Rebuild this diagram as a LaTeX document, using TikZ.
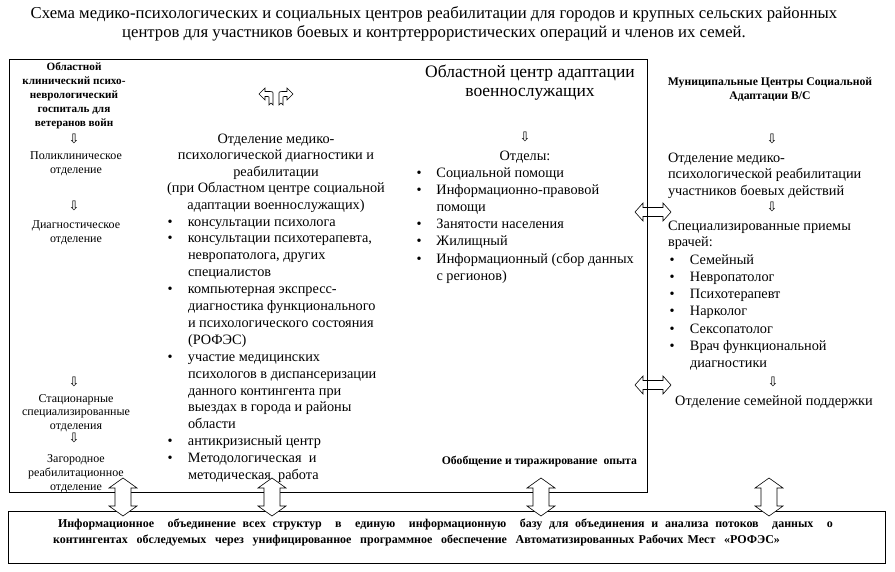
\documentclass[tikz,border=0pt]{standalone}
\usepackage{fontspec}
\setmainfont{Liberation Serif}
\newfontfamily\arrfont{DejaVu Sans}
\newcommand\ctab[1]{\begin{tabular}[t]{@{}c@{}}#1\end{tabular}}
\newcommand\ltab[1]{\begin{tabular}[t]{@{}l@{}}#1\end{tabular}}
\newcommand\btab[2]{\begin{tabular}[t]{@{}p{#1}@{}l@{}}#2\end{tabular}}
\begin{document}
\begin{tikzpicture}[x=1pt,y=-1pt,
  every node/.style={inner sep=0pt, outer sep=0pt},
  frame/.style={draw, line width=0.8pt},
  arrowline/.style={draw, line width=0.6pt},
  titletxt/.style={font=\fontsize{16.7}{19}\selectfont},
  bigtxt/.style={font=\fontsize{17.5}{19}\selectfont},
  bodytxt/.style={font=\fontsize{14.3}{#1}\selectfont},
  smalltxt/.style={font=\fontsize{12}{#1}\selectfont},
  smallbold/.style={font=\fontsize{11.7}{#1}\selectfont\bfseries},
  hospbold/.style={font=\fontsize{11.2}{#1}\selectfont\bfseries},
  infotxt/.style={font=\fontsize{12}{16}\selectfont\bfseries},
  downarr/.style={font=\arrfont\fontsize{13}{13}\selectfont},
  vdbl/.pic={\draw[arrowline, fill=white] (0,-19) -- (14,-9) -- (8,-9) -- (8,9) -- (14,9) -- (0,19) -- (-14,9) -- (-8,9) -- (-8,-9) -- (-14,-9) -- cycle;},
  hdbl/.pic={\draw[arrowline] (-18,0) -- (-10,-9) -- (-10,-4.5) -- (10,-4.5) -- (10,-9) -- (18,0) -- (10,9) -- (10,4.5) -- (-10,4.5) -- (-10,9) -- cycle;}
]
\fill[white] (0,0) rectangle (895,571);
\useasboundingbox (0,0) rectangle (895,571);

% title
\node[titletxt, anchor=base] (title) at (434,18) {\ctab{Схема медико-психологических и социальных центров реабилитации для городов и крупных сельских районных\\центров для участников боевых и контртеррористических операций и членов их семей.}};

% boxes
\node[frame, anchor=north west, minimum width=638pt, minimum height=433pt] (mainbox) at (9,59) {};
\node[frame, anchor=north west, minimum width=877pt, minimum height=52pt] (infobox) at (8,511) {};

% left column
\node[hospbold=14, anchor=base] (hosp) at (74,70) {\ctab{Областной\\клинический психо-\\неврологический\\госпиталь для\\ветеранов войн}};
\node[downarr] (la1) at (74,139) {⇩};
\node[smalltxt=14, anchor=base] (poly) at (76,159) {\ctab{Поликлиническое\\отделение}};
\node[downarr] (la2) at (74,206) {⇩};
\node[smalltxt=14, anchor=base] (diag) at (76,228) {\ctab{Диагностическое\\отделение}};
\node[downarr] (la3) at (74,382) {⇩};
\node[smalltxt=13.7, anchor=base] (stac) at (76,402) {\ctab{Стационарные\\специализированные\\отделения}};
\node[downarr] (la4) at (74,438) {⇩};
\node[smalltxt=14, anchor=base] (zag) at (76,462) {\ctab{Загородное\\реабилитационное\\отделение}};

% curved arrows
\draw[arrowline] (259,94) -- (265,88) -- (265,91.5) -- (270,91.5) .. controls (273,91.5) .. (273,95) -- (273,105) -- (271,103) -- (269,105) -- (269,97) .. controls (269,96.5) .. (268,96.5) -- (265,96.5) -- (265,100) -- cycle;
\draw[arrowline] (293,94) -- (287,88) -- (287,91.5) -- (282,91.5) .. controls (279,91.5) .. (279,95) -- (279,105) -- (281,103) -- (283,105) -- (283,97) .. controls (283,96.5) .. (284,96.5) -- (287,96.5) -- (287,100) -- cycle;

% middle column
\node[bodytxt=16.6, anchor=base] (mhead) at (276,143) {\ctab{Отделение медико-\\психологической диагностики и\\реабилитации\\(при Областном центре социальной\\адаптации военнослужащих)}};
\node[bodytxt=16.9, anchor=base west] (mlist) at (167.5,226) {\btab{20.5pt}{%
\textbullet & консультации психолога\\
\textbullet & консультации психотерапевта,\\
 & невропатолога, других\\
 & специалистов\\
\textbullet & компьютерная экспресс-\\
 & диагностика функционального\\
 & и психологического состояния\\
 & (РОФЭС)\\
\textbullet & участие медицинских\\
 & психологов в диспансеризации\\
 & данного контингента при\\
 & выездах в города и районы\\
 & области\\
\textbullet & антикризисный центр\\
\textbullet & Методологическая \ и\\
 & методическая \ работа}};

% centre column
\node[bigtxt, anchor=base] (ocenter) at (530,77) {\ctab{Областной центр адаптации\\военнослужащих}};
\node[downarr] (ca1) at (525,137) {⇩};
\node[bodytxt=17, anchor=base] (otdely) at (525,160) {Отделы:};
\node[bodytxt=17.2, anchor=base west] (clist) at (416.5,177) {\btab{20pt}{%
\textbullet & Социальной помощи\\
\textbullet & Информационно-правовой\\
 & помощи\\
\textbullet & Занятости населения\\
\textbullet & Жилищный\\
\textbullet & Информационный (сбор данных\\
 & с регионов)}};
\node[smallbold=14, anchor=base east] (obob) at (637,464) {Обобщение и тиражирование \ опыта};

% right column
\node[smallbold=14, anchor=base] (munic) at (770,85) {\ctab{Муниципальные Центры Социальной\\Адаптации В/С}};
\node[downarr] (ra1) at (772,139) {⇩};
\node[bodytxt=16.7, anchor=base west] (rmed) at (668,162) {\ltab{Отделение медико-\\психологической реабилитации\\участников боевых действий}};
\node[downarr] (ra2) at (772,207) {⇩};
\node[bodytxt=16.7, anchor=base west] (rspec) at (668,230) {\ltab{Специализированные приемы\\врачей:}};
\node[bodytxt=17.3, anchor=base west] (rlist) at (669.5,264) {\btab{20.5pt}{%
\textbullet & Семейный\\
\textbullet & Невропатолог\\
\textbullet & Психотерапевт\\
\textbullet & Нарколог\\
\textbullet & Сексопатолог\\
\textbullet & Врач функциональной\\
 & диагностики}};
\node[downarr] (ra3) at (773,382) {⇩};
\node[bodytxt=17, anchor=base] (rfam) at (774,405) {Отделение семейной поддержки};

% horizontal double arrows on the right border
\pic at (653,212) {hdbl};
\pic at (653,385) {hdbl};

% vertical double arrows between boxes
\pic at (123,497) {vdbl};
\pic at (272,497) {vdbl};
\pic at (541,497) {vdbl};
\pic at (769,497) {vdbl};

% info text
\node[infotxt, anchor=base west] (info1) at (58,527) {\makebox[775pt][s]{Информационное \ объединение всех структур \ в \ единую \ информационную \ базу для объединения и анализа потоков \ данных \ о}};
\node[infotxt, anchor=base west] (info2) at (53,543) {\makebox[727pt][s]{контингентах \ обследуемых \ через \ унифицированное \ программное \ обеспечение \ Автоматизированных Рабочих Мест \ «РОФЭС»}};
\end{tikzpicture}
\end{document}
